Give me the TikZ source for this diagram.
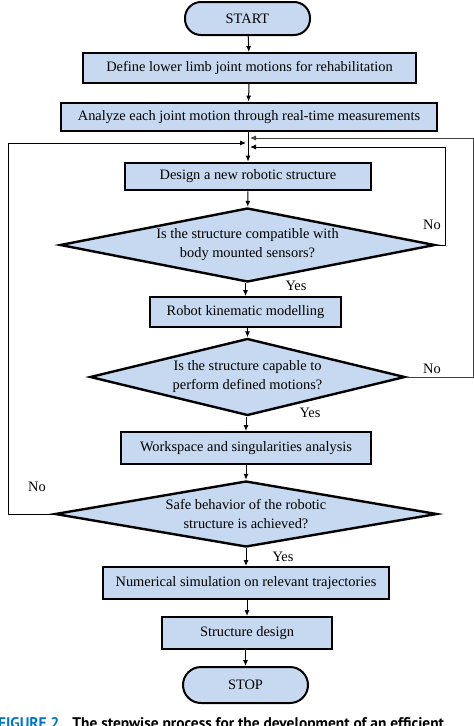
\documentclass[tikz,border=0pt]{standalone}
\usepackage{fontspec}
\setmainfont{Liberation Serif}
\newfontfamily\capfont{PT Sans}
\usetikzlibrary{shapes.geometric,arrows.meta}
\definecolor{boxfill}{RGB}{198,217,240}
\definecolor{capblue}{RGB}{0,118,196}
\tikzset{
  every node/.style={font=\fontsize{14.4}{19}\selectfont},
  procbox/.style={draw=black, line width=2pt, fill=boxfill, inner sep=0pt, align=center},
  thickbox/.style={procbox, line width=2.8pt},
  termbox/.style={procbox, rounded corners=16pt},
  decision/.style={diamond, draw=black, line width=2.4pt, fill=boxfill, inner sep=0pt, aspect=5, align=center},
  flow/.style={line width=1pt, -{Latex[length=6pt,width=5pt]}},
  back/.style={line width=0.9pt, -{Latex[length=6pt,width=5pt]}},
  lbl/.style={inner sep=0pt}
}
\begin{document}
\begin{tikzpicture}[x=1pt,y=-1pt]
\useasboundingbox (0,0) rectangle (474,726);
\clip (0,0) rectangle (474,726);
\node[termbox, minimum width=125pt, minimum height=33pt] (start) at (247.5,18.5) {START};
\node[procbox, minimum width=333pt, minimum height=30pt] (b1) at (249.5,68) {Define lower limb joint motions for rehabilitation};
\node[thickbox, minimum width=376pt, minimum height=28pt] (b2) at (249,117) {Analyze each joint motion through real-time measurements};
\node[thickbox, minimum width=246pt, minimum height=27pt] (b3) at (248,176.5) {Design a new robotic structure};
\node[decision, minimum width=375pt, minimum height=74pt] (d1) at (247.5,245) {Is the structure compatible with\\body mounted sensors?};
\node[procbox, minimum width=191pt, minimum height=30pt] (b4) at (245.5,312) {Robot kinematic modelling};
\node[decision, minimum width=315pt, minimum height=77pt] (d2) at (247.5,377) {Is the structure capable to\\perform defined motions?};
\node[procbox, minimum width=250pt, minimum height=32pt] (b5) at (246,448) {Workspace and singularities analysis};
\node[decision, minimum width=382pt, minimum height=66pt] (d3) at (246,514) {Safe behavior of the robotic\\structure is achieved?};
\node[procbox, minimum width=286pt, minimum height=32pt] (b6) at (246,583) {Numerical simulation on relevant trajectories};
\node[procbox, minimum width=170pt, minimum height=32pt] (b7) at (247,633) {Structure design};
\node[termbox, minimum width=125pt, minimum height=36pt, rounded corners=18pt] (stop) at (245.5,685) {STOP};

\draw[flow] (start) -- (b1);
\draw[flow] ([xshift=-0.5pt]b1.south) -- ([xshift=-0.5pt]b2.north);
\draw[flow] (b2.south -| b3.north) -- (b3.north);
\draw[flow] (b3) -- (d1);
\draw[flow] (d1.south -| b4.north) -- (b4.north);
\draw[flow] (b4.south -| d2.north) -- (d2.north);
\draw[flow] (d2.south -| b5.north) -- (b5.north);
\draw[flow] (b5) -- (d3);
\draw[flow] (d3) -- (b6);
\draw[flow] (b6.south -| b7.north) -- (b7.north);
\draw[flow] (b7.south -| stop.north) -- (stop.north);

\coordinate (r1) at (250,147);
\coordinate (r2) at (250,138);
\coordinate (l1) at (246,143);
\draw[back] (d1.east) -- (445,245) -- (445,147) -- (r1);
\draw[back, draw=black!75] (d2.east) -- (473,377) -- (473,138) -- (r2);
\draw[back] (d3.west) -- (8,514) -- (8,143) -- (l1);

\node[lbl] (no1) at (432,225) {No};
\node[lbl] (no2) at (432,369) {No};
\node[lbl] (no3) at (37,487) {No};
\node[lbl] (yes1) at (296,286) {Yes};
\node[lbl] (yes2) at (310,413) {Yes};
\node[lbl] (yes3) at (283,557) {Yes};

\node[anchor=north west, inner sep=0pt, font=\capfont\bfseries\fontsize{15.4}{17}\selectfont] (cap) at (-2,717) {\textcolor{capblue}{FIGURE 2.}\hspace{0.6em}The stepwise process for the development of an efficient};
\end{tikzpicture}
\end{document}
